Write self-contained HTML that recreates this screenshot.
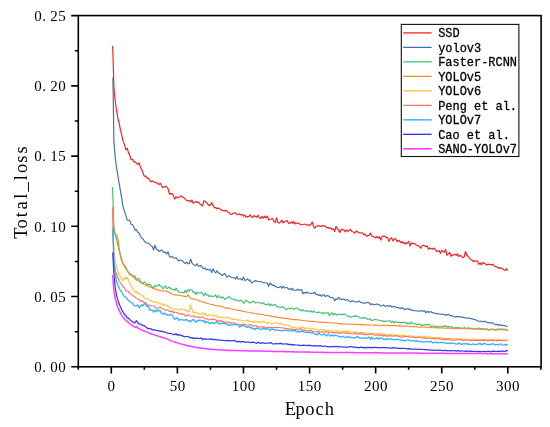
<!DOCTYPE html>
<html lang="en"><head><meta charset="utf-8"><title>Total loss vs Epoch</title>
<style>html,body{margin:0;padding:0;background:#fff}body{width:550px;height:427px;overflow:hidden}</style></head>
<body>
<svg width="550" height="427" viewBox="0 0 550 427" style="display:block;font-family:'Liberation Serif',serif">
<rect width="550" height="427" fill="#fff"/>
<g fill="none" stroke-linejoin="round" stroke-linecap="butt">
<path d="M112.7 45.9 L113.9 87.6 L115.3 102.0 L116.6 110.7 L117.9 118.3 L119.2 123.3 L120.6 130.7 L121.9 135.6 L123.2 141.6 L124.5 144.7 L125.8 149.8 L127.2 148.1 L128.5 152.9 L129.8 155.1 L131.1 159.8 L132.4 159.3 L133.8 162.0 L135.1 161.5 L136.4 163.4 L137.7 164.6 L139.1 162.8 L140.4 166.9 L141.7 169.5 L143.0 172.8 L144.3 176.2 L145.7 176.1 L147.0 178.3 L148.3 178.1 L149.6 180.0 L151.0 181.9 L152.3 180.9 L153.6 181.9 L154.9 182.2 L156.2 182.6 L157.6 183.4 L158.9 184.6 L160.2 183.2 L161.5 185.2 L162.8 187.6 L164.2 186.9 L165.5 186.6 L166.8 186.7 L168.1 188.8 L169.5 194.4 L170.8 193.5 L172.1 193.6 L173.4 195.7 L174.7 199.1 L176.1 196.8 L177.4 197.8 L178.7 197.5 L180.0 196.8 L181.4 195.8 L182.7 197.3 L184.0 197.8 L185.3 199.4 L186.6 200.3 L188.0 200.9 L189.3 200.5 L190.6 201.9 L191.9 200.0 L193.2 203.2 L194.6 202.4 L195.9 201.5 L197.2 202.7 L198.5 202.1 L199.9 204.0 L201.2 204.7 L202.5 205.8 L203.8 200.9 L205.1 201.1 L206.5 202.7 L207.8 204.0 L209.1 205.5 L210.4 205.2 L211.7 202.6 L213.1 205.6 L214.4 207.8 L215.7 207.5 L217.0 208.9 L218.4 208.1 L219.7 208.7 L221.0 209.7 L222.3 210.5 L223.6 210.6 L225.0 210.9 L226.3 210.3 L227.6 212.2 L228.9 212.2 L230.3 214.0 L231.6 214.5 L232.9 213.4 L234.2 213.0 L235.5 212.9 L236.9 214.7 L238.2 214.5 L239.5 214.1 L240.8 214.9 L242.1 214.2 L243.5 216.3 L244.8 214.9 L246.1 217.4 L247.4 216.5 L248.8 216.9 L250.1 214.8 L251.4 216.7 L252.7 217.6 L254.0 215.5 L255.4 216.6 L256.7 217.1 L258.0 215.3 L259.3 217.7 L260.7 218.6 L262.0 216.4 L263.3 218.2 L264.6 216.1 L265.9 218.0 L267.3 216.0 L268.6 219.9 L269.9 219.2 L271.2 219.0 L272.5 218.3 L273.9 221.4 L275.2 222.6 L276.5 217.9 L277.8 222.3 L279.2 223.2 L280.5 221.8 L281.8 220.0 L283.1 222.9 L284.4 221.7 L285.8 221.3 L287.1 220.6 L288.4 223.1 L289.7 223.5 L291.1 221.8 L292.4 223.4 L293.7 221.3 L295.0 224.0 L296.3 223.2 L297.7 223.0 L299.0 223.3 L300.3 224.7 L301.6 224.7 L302.9 224.5 L304.3 224.2 L305.6 224.3 L306.9 225.1 L308.2 224.8 L309.6 225.5 L310.9 224.4 L312.2 221.9 L313.5 226.5 L314.8 228.2 L316.2 226.2 L317.5 225.7 L318.8 225.9 L320.1 226.1 L321.5 226.6 L322.8 225.4 L324.1 226.4 L325.4 226.0 L326.7 227.8 L328.1 227.4 L329.4 228.6 L330.7 227.9 L332.0 229.6 L333.3 228.8 L334.7 231.5 L336.0 226.5 L337.3 228.3 L338.6 230.4 L340.0 232.6 L341.3 229.3 L342.6 229.9 L343.9 229.7 L345.2 231.9 L346.6 230.0 L347.9 231.4 L349.2 230.3 L350.5 229.3 L351.8 231.5 L353.2 231.9 L354.5 233.1 L355.8 231.6 L357.1 231.1 L358.5 232.8 L359.8 232.7 L361.1 233.0 L362.4 232.8 L363.7 234.7 L365.1 234.0 L366.4 236.3 L367.7 235.6 L369.0 235.4 L370.4 233.0 L371.7 236.1 L373.0 236.3 L374.3 237.1 L375.6 237.8 L377.0 236.3 L378.3 238.1 L379.6 236.7 L380.9 240.1 L382.2 236.3 L383.6 236.0 L384.9 236.4 L386.2 237.5 L387.5 237.4 L388.9 241.4 L390.2 238.8 L391.5 237.8 L392.8 240.9 L394.1 239.1 L395.5 238.5 L396.8 241.3 L398.1 241.3 L399.4 240.3 L400.8 242.8 L402.1 241.5 L403.4 243.6 L404.7 242.5 L406.0 244.1 L407.4 242.7 L408.7 241.4 L410.0 246.1 L411.3 242.8 L412.6 243.6 L414.0 243.3 L415.3 244.3 L416.6 245.2 L417.9 245.5 L419.3 246.4 L420.6 248.1 L421.9 246.2 L423.2 245.3 L424.5 245.7 L425.9 246.7 L427.2 245.9 L428.5 249.2 L429.8 248.0 L431.2 248.6 L432.5 249.3 L433.8 248.0 L435.1 249.0 L436.4 251.1 L437.8 251.4 L439.1 250.5 L440.4 253.4 L441.7 250.1 L443.0 251.6 L444.4 252.1 L445.7 249.4 L447.0 255.3 L448.3 253.8 L449.7 252.5 L451.0 256.4 L452.3 255.0 L453.6 255.1 L454.9 254.2 L456.3 255.3 L457.6 253.7 L458.9 256.6 L460.2 255.5 L461.6 256.3 L462.9 257.7 L464.2 256.8 L465.5 251.5 L466.8 255.3 L468.2 256.3 L469.5 258.3 L470.8 259.7 L472.1 260.1 L473.4 261.7 L474.8 260.6 L476.1 261.2 L477.4 260.9 L478.7 264.4 L480.1 262.9 L481.4 265.0 L482.7 262.6 L484.0 263.1 L485.3 263.9 L486.7 265.0 L488.0 264.1 L489.3 264.5 L490.6 264.6 L491.9 265.2 L493.3 264.3 L494.6 266.3 L495.9 266.6 L497.2 267.3 L498.6 268.4 L499.9 267.5 L501.2 268.5 L502.5 268.6 L503.8 269.7 L505.2 270.4 L506.5 268.7 L507.8 270.7" stroke="#fa1a1a" stroke-width="1.15"/>
<path d="M112.9 77.5 L113.9 141.1 L115.3 158.5 L116.6 167.8 L117.9 175.6 L119.2 183.7 L120.6 191.9 L121.9 199.4 L123.2 207.5 L124.5 211.1 L125.8 215.3 L127.2 220.2 L128.5 220.2 L129.8 220.6 L131.1 224.2 L132.4 224.6 L133.8 227.0 L135.1 230.1 L136.4 229.6 L137.7 232.2 L139.1 233.1 L140.4 235.9 L141.7 238.3 L143.0 238.7 L144.3 241.1 L145.7 242.5 L147.0 243.1 L148.3 243.3 L149.6 243.9 L151.0 246.0 L152.3 246.6 L153.6 250.0 L154.9 245.3 L156.2 248.8 L157.6 249.7 L158.9 251.4 L160.2 250.9 L161.5 249.9 L162.8 251.3 L164.2 252.5 L165.5 252.1 L166.8 254.0 L168.1 251.9 L169.5 256.7 L170.8 257.3 L172.1 256.1 L173.4 258.0 L174.7 258.1 L176.1 257.8 L177.4 259.3 L178.7 260.9 L180.0 260.0 L181.4 260.5 L182.7 261.3 L184.0 262.3 L185.3 263.7 L186.6 262.1 L188.0 263.7 L189.3 263.8 L190.6 259.0 L191.9 262.8 L193.2 264.5 L194.6 265.0 L195.9 265.7 L197.2 263.7 L198.5 266.2 L199.9 265.9 L201.2 265.6 L202.5 268.1 L203.8 268.8 L205.1 267.9 L206.5 269.9 L207.8 269.2 L209.1 270.1 L210.4 269.4 L211.7 272.6 L213.1 268.8 L214.4 271.7 L215.7 272.9 L217.0 270.7 L218.4 272.9 L219.7 273.4 L221.0 274.6 L222.3 275.4 L223.6 274.2 L225.0 273.6 L226.3 276.6 L227.6 276.9 L228.9 275.7 L230.3 276.8 L231.6 277.2 L232.9 277.7 L234.2 277.7 L235.5 279.1 L236.9 276.5 L238.2 279.3 L239.5 279.0 L240.8 278.6 L242.1 280.1 L243.5 277.1 L244.8 280.5 L246.1 280.0 L247.4 278.8 L248.8 280.4 L250.1 280.0 L251.4 282.8 L252.7 282.4 L254.0 281.4 L255.4 280.6 L256.7 281.0 L258.0 281.5 L259.3 281.5 L260.7 281.5 L262.0 282.1 L263.3 282.6 L264.6 282.7 L265.9 282.9 L267.3 283.0 L268.6 286.3 L269.9 283.2 L271.2 284.0 L272.5 285.5 L273.9 285.3 L275.2 286.2 L276.5 286.9 L277.8 287.6 L279.2 287.4 L280.5 286.3 L281.8 288.3 L283.1 286.2 L284.4 287.8 L285.8 287.7 L287.1 287.5 L288.4 289.1 L289.7 288.7 L291.1 289.9 L292.4 288.2 L293.7 290.3 L295.0 290.2 L296.3 290.2 L297.7 289.2 L299.0 290.4 L300.3 289.7 L301.6 289.5 L302.9 293.9 L304.3 292.4 L305.6 293.3 L306.9 291.8 L308.2 293.0 L309.6 293.2 L310.9 293.4 L312.2 293.2 L313.5 293.3 L314.8 292.2 L316.2 294.5 L317.5 294.6 L318.8 295.4 L320.1 294.6 L321.5 296.3 L322.8 295.0 L324.1 294.7 L325.4 296.6 L326.7 295.8 L328.1 295.6 L329.4 296.8 L330.7 297.5 L332.0 297.5 L333.3 297.9 L334.7 300.7 L336.0 298.7 L337.3 299.4 L338.6 297.3 L340.0 299.1 L341.3 299.7 L342.6 299.1 L343.9 299.0 L345.2 300.1 L346.6 299.9 L347.9 299.9 L349.2 301.2 L350.5 301.6 L351.8 301.1 L353.2 300.8 L354.5 301.6 L355.8 302.0 L357.1 302.1 L358.5 300.9 L359.8 301.8 L361.1 302.4 L362.4 302.8 L363.7 303.2 L365.1 303.2 L366.4 302.3 L367.7 302.7 L369.0 302.6 L370.4 304.6 L371.7 303.9 L373.0 304.3 L374.3 304.8 L375.6 304.2 L377.0 303.9 L378.3 304.5 L379.6 304.9 L380.9 306.0 L382.2 305.8 L383.6 304.9 L384.9 306.1 L386.2 306.3 L387.5 305.5 L388.9 306.3 L390.2 305.5 L391.5 306.9 L392.8 306.8 L394.1 306.4 L395.5 307.0 L396.8 307.7 L398.1 307.4 L399.4 308.1 L400.8 308.4 L402.1 307.9 L403.4 308.4 L404.7 309.9 L406.0 309.0 L407.4 308.7 L408.7 309.4 L410.0 308.9 L411.3 310.3 L412.6 310.1 L414.0 310.7 L415.3 310.8 L416.6 310.7 L417.9 311.2 L419.3 311.0 L420.6 310.8 L421.9 310.8 L423.2 311.3 L424.5 310.5 L425.9 312.8 L427.2 311.3 L428.5 312.3 L429.8 311.9 L431.2 311.8 L432.5 312.8 L433.8 312.9 L435.1 313.2 L436.4 313.7 L437.8 313.4 L439.1 314.0 L440.4 314.3 L441.7 314.1 L443.0 314.3 L444.4 314.9 L445.7 314.9 L447.0 315.1 L448.3 314.3 L449.7 315.4 L451.0 315.8 L452.3 315.8 L453.6 316.2 L454.9 317.0 L456.3 316.5 L457.6 316.9 L458.9 316.5 L460.2 316.7 L461.6 317.1 L462.9 317.1 L464.2 317.8 L465.5 317.7 L466.8 318.2 L468.2 318.0 L469.5 318.1 L470.8 318.8 L472.1 318.9 L473.4 319.3 L474.8 319.6 L476.1 320.0 L477.4 320.8 L478.7 321.2 L480.1 321.3 L481.4 321.1 L482.7 322.1 L484.0 321.2 L485.3 321.2 L486.7 322.4 L488.0 322.6 L489.3 322.8 L490.6 323.1 L491.9 322.7 L493.3 323.2 L494.6 324.4 L495.9 324.6 L497.2 324.2 L498.6 325.5 L499.9 324.6 L501.2 325.0 L502.5 325.7 L503.8 325.3 L505.2 325.9 L506.5 326.3 L507.8 326.4" stroke="#3f6ea8" stroke-width="1.15"/>
<path d="M112.5 187.0 L113.9 226.2 L115.3 235.3 L116.6 239.1 L117.9 245.3 L119.2 250.8 L120.6 255.9 L121.9 260.1 L123.2 263.8 L124.5 265.8 L125.8 267.0 L127.2 271.0 L128.5 272.7 L129.8 275.1 L131.1 274.5 L132.4 275.2 L133.8 276.2 L135.1 276.0 L136.4 280.0 L137.7 278.4 L139.1 279.1 L140.4 281.0 L141.7 283.7 L143.0 282.8 L144.3 281.9 L145.7 282.8 L147.0 284.9 L148.3 284.4 L149.6 284.2 L151.0 285.3 L152.3 286.9 L153.6 288.7 L154.9 285.2 L156.2 286.2 L157.6 286.2 L158.9 284.4 L160.2 286.2 L161.5 286.2 L162.8 288.8 L164.2 287.4 L165.5 285.8 L166.8 288.7 L168.1 288.0 L169.5 287.0 L170.8 288.9 L172.1 289.3 L173.4 289.3 L174.7 290.5 L176.1 288.1 L177.4 290.5 L178.7 292.0 L180.0 292.0 L181.4 292.4 L182.7 292.5 L184.0 293.0 L185.3 290.2 L186.6 292.5 L188.0 289.6 L189.3 291.2 L190.6 289.8 L191.9 289.7 L193.2 292.4 L194.6 292.1 L195.9 294.4 L197.2 291.9 L198.5 293.0 L199.9 293.1 L201.2 292.1 L202.5 293.9 L203.8 295.8 L205.1 292.9 L206.5 295.3 L207.8 294.4 L209.1 296.8 L210.4 295.7 L211.7 296.2 L213.1 296.4 L214.4 296.2 L215.7 294.8 L217.0 298.0 L218.4 295.4 L219.7 297.3 L221.0 298.0 L222.3 296.7 L223.6 298.0 L225.0 299.3 L226.3 298.4 L227.6 297.8 L228.9 296.0 L230.3 298.3 L231.6 298.9 L232.9 299.3 L234.2 299.1 L235.5 300.6 L236.9 299.9 L238.2 300.5 L239.5 301.4 L240.8 300.1 L242.1 300.7 L243.5 303.3 L244.8 302.1 L246.1 300.1 L247.4 301.4 L248.8 302.2 L250.1 303.0 L251.4 302.1 L252.7 301.6 L254.0 301.5 L255.4 303.0 L256.7 302.8 L258.0 302.2 L259.3 302.7 L260.7 302.7 L262.0 303.9 L263.3 302.8 L264.6 304.1 L265.9 304.6 L267.3 304.5 L268.6 303.6 L269.9 305.8 L271.2 304.2 L272.5 305.6 L273.9 304.8 L275.2 304.3 L276.5 306.5 L277.8 306.9 L279.2 306.9 L280.5 307.5 L281.8 306.9 L283.1 307.1 L284.4 307.7 L285.8 309.7 L287.1 308.9 L288.4 307.9 L289.7 308.9 L291.1 308.2 L292.4 308.3 L293.7 309.6 L295.0 308.6 L296.3 307.8 L297.7 308.6 L299.0 309.6 L300.3 309.9 L301.6 311.0 L302.9 309.6 L304.3 311.0 L305.6 310.9 L306.9 310.6 L308.2 311.7 L309.6 311.6 L310.9 310.7 L312.2 312.4 L313.5 310.8 L314.8 312.0 L316.2 312.2 L317.5 312.7 L318.8 311.9 L320.1 312.6 L321.5 312.7 L322.8 313.7 L324.1 312.5 L325.4 313.3 L326.7 313.2 L328.1 312.5 L329.4 315.7 L330.7 313.7 L332.0 312.8 L333.3 315.1 L334.7 313.3 L336.0 314.6 L337.3 315.1 L338.6 314.1 L340.0 314.4 L341.3 314.4 L342.6 314.9 L343.9 313.9 L345.2 314.4 L346.6 315.4 L347.9 316.4 L349.2 316.3 L350.5 317.3 L351.8 316.8 L353.2 316.2 L354.5 316.7 L355.8 315.5 L357.1 316.5 L358.5 316.7 L359.8 317.9 L361.1 318.3 L362.4 317.7 L363.7 317.9 L365.1 317.5 L366.4 318.6 L367.7 319.1 L369.0 319.4 L370.4 318.7 L371.7 320.7 L373.0 320.3 L374.3 319.6 L375.6 319.5 L377.0 319.7 L378.3 320.2 L379.6 320.2 L380.9 320.6 L382.2 320.9 L383.6 321.4 L384.9 321.4 L386.2 320.8 L387.5 321.2 L388.9 320.8 L390.2 320.9 L391.5 322.5 L392.8 321.2 L394.1 322.8 L395.5 321.5 L396.8 322.0 L398.1 322.7 L399.4 322.2 L400.8 322.5 L402.1 322.3 L403.4 322.3 L404.7 322.6 L406.0 322.5 L407.4 323.9 L408.7 323.0 L410.0 324.2 L411.3 321.8 L412.6 323.5 L414.0 324.0 L415.3 323.6 L416.6 324.5 L417.9 324.4 L419.3 324.0 L420.6 324.5 L421.9 326.0 L423.2 324.7 L424.5 324.9 L425.9 324.6 L427.2 325.0 L428.5 324.4 L429.8 325.1 L431.2 326.6 L432.5 326.0 L433.8 325.9 L435.1 326.3 L436.4 326.8 L437.8 326.2 L439.1 327.1 L440.4 326.7 L441.7 326.4 L443.0 327.3 L444.4 325.4 L445.7 326.4 L447.0 326.9 L448.3 326.4 L449.7 326.9 L451.0 326.8 L452.3 326.9 L453.6 328.6 L454.9 327.7 L456.3 327.5 L457.6 328.2 L458.9 327.6 L460.2 328.2 L461.6 328.0 L462.9 328.7 L464.2 327.3 L465.5 328.4 L466.8 328.2 L468.2 327.7 L469.5 328.8 L470.8 328.0 L472.1 329.2 L473.4 328.8 L474.8 328.9 L476.1 328.7 L477.4 329.1 L478.7 327.9 L480.1 328.9 L481.4 328.6 L482.7 329.1 L484.0 329.0 L485.3 329.3 L486.7 328.7 L488.0 330.0 L489.3 330.3 L490.6 329.1 L491.9 329.3 L493.3 329.4 L494.6 330.0 L495.9 330.3 L497.2 328.9 L498.6 329.2 L499.9 329.0 L501.2 329.0 L502.5 328.8 L503.8 329.8 L505.2 329.1 L506.5 330.4 L507.8 330.1" stroke="#3ec070" stroke-width="1.15"/>
<path d="M112.6 207.4 L113.9 232.5 L115.3 233.8 L116.6 235.0 L117.9 238.8 L119.2 248.4 L120.6 257.5 L121.9 261.6 L123.2 264.4 L124.5 266.6 L125.8 268.9 L127.2 270.5 L128.5 272.2 L129.8 273.7 L131.1 274.7 L132.4 276.4 L133.8 277.3 L135.1 279.0 L136.4 279.9 L137.7 280.7 L139.1 281.3 L140.4 282.4 L141.7 283.1 L143.0 283.4 L144.3 284.9 L145.7 285.0 L147.0 286.0 L148.3 285.9 L149.6 287.2 L151.0 287.1 L152.3 287.9 L153.6 288.8 L154.9 289.2 L156.2 289.1 L157.6 289.6 L158.9 290.3 L160.2 290.8 L161.5 290.7 L162.8 290.6 L164.2 291.0 L165.5 290.8 L166.8 291.6 L168.1 291.6 L169.5 292.6 L170.8 293.2 L172.1 294.0 L173.4 294.2 L174.7 294.9 L176.1 294.8 L177.4 295.3 L178.7 295.5 L180.0 295.1 L181.4 295.8 L182.7 296.1 L184.0 296.1 L185.3 296.6 L186.6 296.6 L188.0 294.9 L189.3 296.9 L190.6 298.1 L191.9 299.0 L193.2 298.9 L194.6 299.3 L195.9 299.5 L197.2 300.1 L198.5 300.3 L199.9 301.2 L201.2 301.1 L202.5 301.7 L203.8 302.6 L205.1 302.8 L206.5 303.0 L207.8 303.7 L209.1 303.7 L210.4 304.3 L211.7 304.5 L213.1 304.6 L214.4 305.2 L215.7 305.7 L217.0 305.7 L218.4 305.9 L219.7 306.3 L221.0 306.2 L222.3 306.9 L223.6 307.1 L225.0 308.1 L226.3 307.8 L227.6 307.8 L228.9 308.6 L230.3 308.7 L231.6 309.0 L232.9 309.3 L234.2 309.5 L235.5 309.7 L236.9 310.2 L238.2 310.4 L239.5 310.4 L240.8 310.8 L242.1 310.9 L243.5 311.4 L244.8 311.7 L246.1 312.0 L247.4 312.2 L248.8 312.3 L250.1 312.9 L251.4 312.8 L252.7 313.0 L254.0 313.2 L255.4 313.5 L256.7 313.6 L258.0 314.3 L259.3 314.2 L260.7 314.0 L262.0 314.4 L263.3 314.5 L264.6 315.2 L265.9 315.5 L267.3 315.3 L268.6 315.8 L269.9 315.9 L271.2 316.2 L272.5 316.7 L273.9 316.5 L275.2 316.6 L276.5 317.2 L277.8 317.4 L279.2 317.6 L280.5 317.9 L281.8 317.7 L283.1 317.7 L284.4 318.5 L285.8 318.4 L287.1 318.4 L288.4 318.6 L289.7 319.2 L291.1 319.2 L292.4 319.4 L293.7 319.6 L295.0 319.5 L296.3 319.6 L297.7 319.8 L299.0 319.9 L300.3 320.1 L301.6 320.2 L302.9 320.5 L304.3 320.5 L305.6 320.7 L306.9 321.0 L308.2 321.3 L309.6 321.4 L310.9 321.3 L312.2 321.4 L313.5 321.4 L314.8 321.8 L316.2 322.0 L317.5 321.7 L318.8 322.1 L320.1 322.0 L321.5 322.1 L322.8 322.3 L324.1 322.3 L325.4 322.6 L326.7 322.3 L328.1 322.6 L329.4 322.8 L330.7 322.7 L332.0 323.0 L333.3 322.8 L334.7 323.2 L336.0 323.0 L337.3 323.3 L338.6 323.5 L340.0 323.9 L341.3 323.8 L342.6 324.0 L343.9 323.8 L345.2 324.2 L346.6 323.9 L347.9 324.0 L349.2 323.9 L350.5 324.2 L351.8 324.4 L353.2 324.2 L354.5 324.3 L355.8 324.4 L357.1 324.4 L358.5 324.5 L359.8 324.4 L361.1 324.9 L362.4 324.4 L363.7 324.6 L365.1 324.9 L366.4 325.1 L367.7 324.9 L369.0 324.9 L370.4 325.0 L371.7 325.0 L373.0 325.2 L374.3 325.1 L375.6 325.0 L377.0 325.1 L378.3 325.2 L379.6 325.4 L380.9 325.5 L382.2 325.2 L383.6 325.1 L384.9 325.2 L386.2 325.7 L387.5 325.4 L388.9 325.5 L390.2 325.8 L391.5 325.4 L392.8 325.6 L394.1 325.6 L395.5 325.5 L396.8 325.9 L398.1 326.0 L399.4 325.6 L400.8 326.1 L402.1 326.0 L403.4 326.1 L404.7 326.2 L406.0 326.0 L407.4 326.2 L408.7 326.2 L410.0 326.7 L411.3 326.8 L412.6 326.6 L414.0 326.5 L415.3 326.8 L416.6 326.7 L417.9 327.1 L419.3 327.2 L420.6 327.2 L421.9 327.0 L423.2 327.0 L424.5 327.1 L425.9 327.2 L427.2 327.2 L428.5 327.6 L429.8 327.6 L431.2 327.5 L432.5 327.5 L433.8 327.7 L435.1 327.9 L436.4 327.5 L437.8 327.8 L439.1 327.8 L440.4 327.8 L441.7 327.9 L443.0 328.0 L444.4 328.3 L445.7 328.1 L447.0 328.1 L448.3 328.0 L449.7 328.3 L451.0 328.1 L452.3 328.2 L453.6 328.4 L454.9 328.3 L456.3 328.3 L457.6 328.4 L458.9 328.6 L460.2 328.5 L461.6 328.5 L462.9 328.6 L464.2 328.6 L465.5 328.7 L466.8 328.6 L468.2 328.9 L469.5 328.8 L470.8 328.6 L472.1 328.8 L473.4 329.0 L474.8 328.9 L476.1 328.9 L477.4 329.1 L478.7 328.9 L480.1 329.1 L481.4 329.2 L482.7 329.3 L484.0 329.1 L485.3 329.1 L486.7 329.4 L488.0 329.2 L489.3 329.3 L490.6 329.7 L491.9 329.3 L493.3 329.1 L494.6 329.8 L495.9 329.6 L497.2 329.5 L498.6 329.9 L499.9 329.5 L501.2 329.8 L502.5 329.6 L503.8 329.6 L505.2 329.7 L506.5 329.8 L507.8 329.9" stroke="#ff8828" stroke-width="1.15"/>
<path d="M112.6 215.0 L113.9 250.6 L115.3 261.0 L116.6 266.9 L117.9 271.4 L119.2 275.0 L120.6 277.2 L121.9 279.5 L123.2 280.7 L124.5 277.4 L125.8 279.5 L127.2 276.9 L128.5 280.1 L129.8 283.7 L131.1 284.6 L132.4 287.7 L133.8 290.8 L135.1 292.4 L136.4 291.4 L137.7 293.6 L139.1 293.4 L140.4 294.2 L141.7 295.0 L143.0 296.0 L144.3 297.7 L145.7 298.3 L147.0 298.7 L148.3 299.2 L149.6 300.0 L151.0 300.6 L152.3 301.6 L153.6 301.2 L154.9 301.9 L156.2 302.3 L157.6 302.6 L158.9 303.1 L160.2 303.4 L161.5 304.5 L162.8 304.0 L164.2 305.4 L165.5 304.7 L166.8 305.2 L168.1 306.2 L169.5 307.2 L170.8 307.8 L172.1 309.0 L173.4 309.3 L174.7 309.1 L176.1 308.8 L177.4 309.1 L178.7 310.1 L180.0 309.6 L181.4 308.8 L182.7 309.3 L184.0 309.5 L185.3 310.7 L186.6 310.2 L188.0 311.8 L189.3 311.2 L190.6 304.8 L191.9 309.1 L193.2 312.5 L194.6 312.3 L195.9 312.3 L197.2 313.4 L198.5 313.4 L199.9 314.3 L201.2 313.8 L202.5 312.5 L203.8 314.8 L205.1 313.5 L206.5 315.6 L207.8 315.9 L209.1 314.9 L210.4 314.7 L211.7 314.8 L213.1 316.2 L214.4 315.8 L215.7 315.8 L217.0 316.1 L218.4 317.5 L219.7 316.8 L221.0 317.2 L222.3 317.4 L223.6 317.7 L225.0 318.0 L226.3 317.3 L227.6 317.8 L228.9 317.8 L230.3 318.2 L231.6 319.4 L232.9 318.9 L234.2 319.4 L235.5 319.3 L236.9 319.5 L238.2 320.4 L239.5 319.9 L240.8 320.0 L242.1 320.7 L243.5 320.8 L244.8 321.0 L246.1 320.8 L247.4 320.0 L248.8 321.3 L250.1 321.3 L251.4 321.7 L252.7 320.9 L254.0 322.7 L255.4 321.0 L256.7 322.1 L258.0 321.9 L259.3 321.8 L260.7 322.6 L262.0 322.2 L263.3 321.3 L264.6 322.0 L265.9 322.9 L267.3 323.9 L268.6 322.3 L269.9 323.1 L271.2 324.0 L272.5 323.7 L273.9 323.4 L275.2 323.0 L276.5 323.0 L277.8 323.7 L279.2 324.0 L280.5 323.3 L281.8 323.8 L283.1 324.9 L284.4 324.8 L285.8 324.9 L287.1 325.3 L288.4 325.4 L289.7 326.4 L291.1 327.0 L292.4 327.4 L293.7 327.0 L295.0 327.2 L296.3 327.7 L297.7 328.0 L299.0 328.0 L300.3 328.1 L301.6 327.4 L302.9 327.1 L304.3 328.4 L305.6 328.1 L306.9 328.3 L308.2 328.1 L309.6 328.0 L310.9 329.3 L312.2 329.1 L313.5 328.5 L314.8 329.3 L316.2 329.4 L317.5 329.6 L318.8 330.5 L320.1 329.6 L321.5 329.2 L322.8 329.9 L324.1 329.7 L325.4 330.4 L326.7 330.3 L328.1 330.5 L329.4 330.2 L330.7 330.7 L332.0 330.5 L333.3 331.0 L334.7 330.8 L336.0 330.5 L337.3 331.3 L338.6 330.9 L340.0 331.9 L341.3 331.6 L342.6 331.7 L343.9 331.6 L345.2 331.6 L346.6 330.8 L347.9 332.3 L349.2 331.6 L350.5 332.4 L351.8 331.8 L353.2 332.1 L354.5 332.2 L355.8 331.9 L357.1 332.4 L358.5 332.7 L359.8 332.4 L361.1 332.2 L362.4 332.5 L363.7 332.9 L365.1 333.4 L366.4 333.3 L367.7 333.2 L369.0 332.8 L370.4 333.6 L371.7 333.4 L373.0 333.4 L374.3 333.9 L375.6 333.9 L377.0 334.0 L378.3 333.5 L379.6 333.8 L380.9 333.5 L382.2 334.3 L383.6 334.3 L384.9 334.8 L386.2 334.6 L387.5 334.5 L388.9 335.5 L390.2 334.4 L391.5 334.4 L392.8 334.8 L394.1 335.3 L395.5 335.0 L396.8 335.1 L398.1 334.9 L399.4 335.9 L400.8 335.2 L402.1 335.2 L403.4 335.6 L404.7 335.4 L406.0 335.7 L407.4 336.3 L408.7 335.8 L410.0 336.0 L411.3 335.9 L412.6 336.1 L414.0 336.5 L415.3 336.5 L416.6 336.3 L417.9 336.2 L419.3 336.5 L420.6 336.9 L421.9 336.8 L423.2 336.8 L424.5 336.4 L425.9 337.4 L427.2 336.7 L428.5 336.8 L429.8 337.2 L431.2 337.4 L432.5 337.5 L433.8 337.3 L435.1 337.6 L436.4 337.6 L437.8 337.3 L439.1 337.8 L440.4 337.8 L441.7 338.2 L443.0 338.1 L444.4 338.5 L445.7 338.5 L447.0 338.6 L448.3 338.8 L449.7 338.7 L451.0 338.5 L452.3 339.0 L453.6 338.4 L454.9 338.7 L456.3 339.1 L457.6 338.8 L458.9 339.1 L460.2 338.7 L461.6 338.9 L462.9 339.2 L464.2 339.3 L465.5 339.5 L466.8 339.2 L468.2 339.4 L469.5 339.5 L470.8 339.5 L472.1 339.0 L473.4 339.3 L474.8 340.0 L476.1 339.2 L477.4 339.8 L478.7 339.5 L480.1 340.0 L481.4 339.5 L482.7 339.8 L484.0 339.2 L485.3 339.8 L486.7 340.2 L488.0 339.4 L489.3 340.3 L490.6 339.7 L491.9 339.9 L493.3 339.2 L494.6 340.3 L495.9 339.8 L497.2 339.9 L498.6 339.7 L499.9 339.8 L501.2 340.5 L502.5 340.0 L503.8 340.4 L505.2 340.1 L506.5 340.3 L507.8 340.0" stroke="#ffc42e" stroke-width="1.15"/>
<path d="M112.6 207.4 L113.9 260.6 L115.3 271.0 L116.6 274.8 L117.9 277.7 L119.2 280.8 L120.6 283.2 L121.9 284.4 L123.2 287.2 L124.5 287.9 L125.8 290.7 L127.2 290.9 L128.5 291.6 L129.8 293.7 L131.1 294.2 L132.4 295.3 L133.8 296.3 L135.1 297.1 L136.4 298.4 L137.7 299.3 L139.1 299.8 L140.4 301.5 L141.7 300.3 L143.0 301.6 L144.3 303.1 L145.7 302.6 L147.0 304.9 L148.3 305.0 L149.6 305.1 L151.0 306.0 L152.3 305.8 L153.6 305.7 L154.9 307.5 L156.2 307.9 L157.6 307.8 L158.9 308.0 L160.2 307.1 L161.5 308.2 L162.8 308.8 L164.2 309.5 L165.5 310.6 L166.8 309.8 L168.1 310.1 L169.5 311.6 L170.8 311.4 L172.1 311.1 L173.4 312.9 L174.7 312.0 L176.1 312.5 L177.4 312.5 L178.7 313.6 L180.0 314.2 L181.4 313.6 L182.7 314.3 L184.0 314.1 L185.3 315.9 L186.6 315.7 L188.0 314.8 L189.3 315.7 L190.6 316.2 L191.9 316.2 L193.2 315.8 L194.6 316.4 L195.9 317.2 L197.2 317.3 L198.5 316.8 L199.9 317.8 L201.2 317.2 L202.5 316.8 L203.8 318.2 L205.1 318.8 L206.5 318.7 L207.8 319.5 L209.1 319.9 L210.4 319.3 L211.7 319.0 L213.1 319.6 L214.4 319.1 L215.7 320.1 L217.0 320.4 L218.4 320.8 L219.7 321.6 L221.0 320.1 L222.3 321.9 L223.6 321.5 L225.0 322.4 L226.3 322.3 L227.6 321.9 L228.9 323.0 L230.3 322.4 L231.6 323.2 L232.9 322.8 L234.2 323.0 L235.5 323.5 L236.9 324.6 L238.2 324.2 L239.5 324.0 L240.8 325.0 L242.1 324.4 L243.5 324.4 L244.8 324.3 L246.1 325.0 L247.4 325.2 L248.8 325.0 L250.1 324.5 L251.4 325.6 L252.7 325.9 L254.0 325.8 L255.4 325.8 L256.7 325.9 L258.0 326.3 L259.3 327.4 L260.7 327.0 L262.0 326.2 L263.3 327.4 L264.6 327.0 L265.9 328.4 L267.3 327.2 L268.6 327.4 L269.9 327.5 L271.2 327.6 L272.5 327.6 L273.9 327.6 L275.2 327.5 L276.5 327.4 L277.8 327.6 L279.2 327.3 L280.5 327.7 L281.8 327.7 L283.1 328.0 L284.4 328.1 L285.8 328.4 L287.1 328.8 L288.4 328.6 L289.7 329.0 L291.1 329.2 L292.4 329.1 L293.7 329.3 L295.0 329.7 L296.3 328.9 L297.7 330.1 L299.0 329.7 L300.3 328.4 L301.6 330.4 L302.9 329.7 L304.3 330.8 L305.6 330.0 L306.9 330.5 L308.2 331.0 L309.6 330.5 L310.9 330.5 L312.2 331.0 L313.5 331.7 L314.8 331.7 L316.2 332.0 L317.5 331.6 L318.8 331.8 L320.1 332.1 L321.5 332.0 L322.8 331.5 L324.1 332.3 L325.4 331.8 L326.7 331.8 L328.1 332.3 L329.4 332.3 L330.7 332.7 L332.0 332.6 L333.3 332.4 L334.7 332.6 L336.0 332.5 L337.3 332.7 L338.6 333.4 L340.0 333.1 L341.3 332.9 L342.6 333.0 L343.9 332.9 L345.2 333.2 L346.6 332.7 L347.9 333.6 L349.2 333.3 L350.5 333.8 L351.8 334.0 L353.2 333.8 L354.5 333.3 L355.8 333.3 L357.1 334.1 L358.5 334.2 L359.8 333.4 L361.1 333.6 L362.4 334.5 L363.7 334.1 L365.1 335.0 L366.4 334.4 L367.7 334.7 L369.0 334.4 L370.4 334.3 L371.7 334.0 L373.0 333.6 L374.3 335.2 L375.6 335.1 L377.0 334.7 L378.3 335.4 L379.6 334.6 L380.9 335.8 L382.2 335.5 L383.6 336.1 L384.9 334.9 L386.2 336.2 L387.5 336.1 L388.9 335.9 L390.2 335.6 L391.5 336.1 L392.8 336.2 L394.1 335.9 L395.5 335.7 L396.8 335.9 L398.1 336.2 L399.4 336.8 L400.8 336.9 L402.1 337.2 L403.4 336.8 L404.7 336.2 L406.0 336.5 L407.4 336.5 L408.7 336.8 L410.0 337.5 L411.3 337.0 L412.6 337.0 L414.0 337.4 L415.3 337.6 L416.6 337.7 L417.9 337.2 L419.3 337.3 L420.6 337.5 L421.9 338.0 L423.2 337.9 L424.5 337.6 L425.9 338.7 L427.2 338.0 L428.5 338.2 L429.8 338.3 L431.2 338.2 L432.5 338.5 L433.8 338.6 L435.1 338.8 L436.4 338.9 L437.8 338.7 L439.1 338.6 L440.4 339.3 L441.7 339.0 L443.0 339.5 L444.4 339.3 L445.7 340.1 L447.0 339.3 L448.3 338.9 L449.7 339.4 L451.0 339.9 L452.3 340.1 L453.6 340.2 L454.9 339.9 L456.3 340.2 L457.6 339.5 L458.9 339.7 L460.2 339.6 L461.6 340.1 L462.9 340.4 L464.2 340.0 L465.5 340.2 L466.8 339.9 L468.2 340.0 L469.5 340.2 L470.8 340.6 L472.1 340.3 L473.4 340.4 L474.8 340.6 L476.1 340.5 L477.4 340.1 L478.7 340.8 L480.1 340.3 L481.4 340.4 L482.7 340.4 L484.0 340.6 L485.3 340.4 L486.7 340.5 L488.0 341.0 L489.3 340.2 L490.6 339.9 L491.9 340.9 L493.3 340.6 L494.6 340.7 L495.9 340.7 L497.2 340.4 L498.6 340.6 L499.9 340.1 L501.2 340.6 L502.5 340.6 L503.8 340.2 L505.2 340.4 L506.5 340.6 L507.8 340.7" stroke="#ff7070" stroke-width="1.15"/>
<path d="M112.6 228.5 L113.9 260.0 L115.3 274.4 L116.6 281.1 L117.9 285.1 L119.2 288.2 L120.6 290.7 L121.9 292.0 L123.2 295.1 L124.5 296.5 L125.8 297.1 L127.2 298.8 L128.5 300.7 L129.8 301.3 L131.1 302.6 L132.4 302.8 L133.8 305.5 L135.1 305.6 L136.4 306.1 L137.7 304.8 L139.1 307.8 L140.4 306.2 L141.7 304.7 L143.0 305.9 L144.3 303.9 L145.7 303.9 L147.0 306.5 L148.3 306.1 L149.6 310.1 L151.0 309.8 L152.3 310.2 L153.6 312.2 L154.9 309.9 L156.2 311.9 L157.6 309.7 L158.9 311.0 L160.2 310.7 L161.5 313.4 L162.8 314.2 L164.2 313.0 L165.5 314.6 L166.8 314.3 L168.1 315.4 L169.5 314.8 L170.8 314.5 L172.1 315.0 L173.4 317.3 L174.7 319.4 L176.1 318.1 L177.4 317.9 L178.7 320.4 L180.0 319.4 L181.4 319.7 L182.7 320.1 L184.0 320.0 L185.3 320.1 L186.6 319.3 L188.0 321.0 L189.3 320.6 L190.6 321.7 L191.9 320.5 L193.2 319.2 L194.6 320.8 L195.9 322.4 L197.2 320.7 L198.5 320.4 L199.9 320.2 L201.2 320.4 L202.5 321.2 L203.8 320.6 L205.1 322.9 L206.5 321.6 L207.8 322.1 L209.1 323.3 L210.4 323.5 L211.7 322.3 L213.1 322.8 L214.4 323.3 L215.7 322.7 L217.0 321.5 L218.4 323.6 L219.7 323.9 L221.0 323.7 L222.3 322.8 L223.6 323.5 L225.0 323.3 L226.3 323.6 L227.6 325.0 L228.9 325.3 L230.3 324.8 L231.6 324.8 L232.9 325.0 L234.2 324.6 L235.5 324.7 L236.9 324.4 L238.2 325.1 L239.5 327.1 L240.8 326.3 L242.1 325.7 L243.5 325.9 L244.8 325.9 L246.1 327.1 L247.4 327.4 L248.8 326.3 L250.1 327.9 L251.4 327.3 L252.7 329.0 L254.0 328.2 L255.4 329.5 L256.7 328.0 L258.0 328.3 L259.3 328.8 L260.7 329.5 L262.0 329.2 L263.3 328.0 L264.6 329.2 L265.9 329.1 L267.3 328.9 L268.6 328.8 L269.9 330.6 L271.2 329.2 L272.5 328.9 L273.9 330.0 L275.2 329.8 L276.5 329.7 L277.8 330.4 L279.2 330.3 L280.5 330.3 L281.8 330.8 L283.1 330.5 L284.4 330.0 L285.8 330.3 L287.1 330.3 L288.4 331.0 L289.7 330.2 L291.1 329.8 L292.4 331.3 L293.7 330.5 L295.0 330.2 L296.3 331.9 L297.7 331.3 L299.0 332.2 L300.3 331.7 L301.6 331.4 L302.9 331.4 L304.3 332.1 L305.6 332.3 L306.9 332.1 L308.2 332.6 L309.6 331.9 L310.9 333.0 L312.2 332.0 L313.5 333.2 L314.8 333.9 L316.2 334.3 L317.5 334.8 L318.8 332.8 L320.1 334.4 L321.5 334.9 L322.8 334.9 L324.1 333.8 L325.4 334.9 L326.7 336.0 L328.1 334.0 L329.4 335.4 L330.7 336.0 L332.0 335.1 L333.3 336.1 L334.7 335.2 L336.0 335.5 L337.3 335.7 L338.6 336.5 L340.0 336.4 L341.3 337.2 L342.6 336.2 L343.9 336.8 L345.2 337.5 L346.6 337.4 L347.9 336.3 L349.2 337.6 L350.5 337.0 L351.8 337.6 L353.2 337.6 L354.5 338.2 L355.8 337.6 L357.1 336.5 L358.5 336.9 L359.8 338.2 L361.1 337.7 L362.4 338.5 L363.7 338.1 L365.1 337.6 L366.4 338.7 L367.7 337.7 L369.0 337.0 L370.4 339.4 L371.7 337.2 L373.0 338.7 L374.3 339.0 L375.6 338.6 L377.0 337.6 L378.3 339.2 L379.6 337.9 L380.9 338.0 L382.2 338.6 L383.6 339.3 L384.9 339.1 L386.2 339.4 L387.5 338.8 L388.9 339.0 L390.2 338.6 L391.5 339.1 L392.8 339.7 L394.1 339.3 L395.5 339.8 L396.8 339.3 L398.1 339.4 L399.4 339.8 L400.8 339.8 L402.1 340.3 L403.4 340.2 L404.7 341.1 L406.0 340.1 L407.4 340.2 L408.7 339.9 L410.0 340.6 L411.3 341.0 L412.6 340.4 L414.0 340.8 L415.3 341.3 L416.6 341.0 L417.9 340.9 L419.3 341.7 L420.6 341.4 L421.9 341.6 L423.2 342.1 L424.5 342.2 L425.9 341.5 L427.2 341.6 L428.5 342.0 L429.8 341.9 L431.2 341.2 L432.5 342.8 L433.8 342.3 L435.1 342.7 L436.4 341.9 L437.8 343.1 L439.1 342.3 L440.4 342.6 L441.7 342.1 L443.0 342.8 L444.4 342.8 L445.7 342.9 L447.0 343.3 L448.3 343.2 L449.7 343.6 L451.0 343.1 L452.3 342.9 L453.6 343.4 L454.9 343.7 L456.3 344.1 L457.6 343.9 L458.9 342.8 L460.2 343.8 L461.6 344.4 L462.9 343.8 L464.2 343.6 L465.5 344.0 L466.8 343.7 L468.2 344.3 L469.5 344.0 L470.8 344.7 L472.1 344.4 L473.4 343.9 L474.8 344.5 L476.1 344.7 L477.4 344.0 L478.7 344.1 L480.1 343.3 L481.4 344.8 L482.7 344.1 L484.0 343.4 L485.3 343.6 L486.7 344.3 L488.0 344.7 L489.3 344.4 L490.6 344.6 L491.9 343.9 L493.3 343.8 L494.6 344.8 L495.9 344.6 L497.2 344.4 L498.6 345.0 L499.9 344.0 L501.2 344.2 L502.5 344.9 L503.8 345.2 L505.2 344.4 L506.5 345.2 L507.8 344.1" stroke="#30b0fa" stroke-width="1.3"/>
<path d="M112.7 252.4 L113.9 273.9 L115.3 288.1 L116.6 295.4 L117.9 300.2 L119.2 304.1 L120.6 307.2 L121.9 310.1 L123.2 312.3 L124.5 314.4 L125.8 315.4 L127.2 317.9 L128.5 318.2 L129.8 319.6 L131.1 320.8 L132.4 321.5 L133.8 322.7 L135.1 322.8 L136.4 320.6 L137.7 322.5 L139.1 324.2 L140.4 324.0 L141.7 324.7 L143.0 325.7 L144.3 325.7 L145.7 326.9 L147.0 327.9 L148.3 328.6 L149.6 328.7 L151.0 328.8 L152.3 329.9 L153.6 329.6 L154.9 330.0 L156.2 330.4 L157.6 330.6 L158.9 330.8 L160.2 331.5 L161.5 331.2 L162.8 331.7 L164.2 332.1 L165.5 332.2 L166.8 332.8 L168.1 333.1 L169.5 333.3 L170.8 333.5 L172.1 334.0 L173.4 334.7 L174.7 334.7 L176.1 333.6 L177.4 335.3 L178.7 334.6 L180.0 334.9 L181.4 335.8 L182.7 335.6 L184.0 336.8 L185.3 336.7 L186.6 336.5 L188.0 336.4 L189.3 337.3 L190.6 337.8 L191.9 337.6 L193.2 338.4 L194.6 338.1 L195.9 338.4 L197.2 338.2 L198.5 338.5 L199.9 338.4 L201.2 338.0 L202.5 339.5 L203.8 338.7 L205.1 338.9 L206.5 339.3 L207.8 339.0 L209.1 339.1 L210.4 339.3 L211.7 338.9 L213.1 339.8 L214.4 339.6 L215.7 339.4 L217.0 340.0 L218.4 340.0 L219.7 339.8 L221.0 340.2 L222.3 340.3 L223.6 340.5 L225.0 340.7 L226.3 340.8 L227.6 340.3 L228.9 340.8 L230.3 340.5 L231.6 341.0 L232.9 340.6 L234.2 340.4 L235.5 341.0 L236.9 341.9 L238.2 341.6 L239.5 341.4 L240.8 342.2 L242.1 341.5 L243.5 341.7 L244.8 342.1 L246.1 342.1 L247.4 342.1 L248.8 342.1 L250.1 342.3 L251.4 342.7 L252.7 342.1 L254.0 342.3 L255.4 343.0 L256.7 343.4 L258.0 342.2 L259.3 342.9 L260.7 343.3 L262.0 342.9 L263.3 342.9 L264.6 343.4 L265.9 343.0 L267.3 343.0 L268.6 343.1 L269.9 342.9 L271.2 342.7 L272.5 343.8 L273.9 344.0 L275.2 343.6 L276.5 343.6 L277.8 343.8 L279.2 343.7 L280.5 343.3 L281.8 343.6 L283.1 344.1 L284.4 344.0 L285.8 343.8 L287.1 343.9 L288.4 344.7 L289.7 344.1 L291.1 344.9 L292.4 344.9 L293.7 344.6 L295.0 344.8 L296.3 345.0 L297.7 345.2 L299.0 345.2 L300.3 345.6 L301.6 345.5 L302.9 345.2 L304.3 345.4 L305.6 345.3 L306.9 345.4 L308.2 345.6 L309.6 345.1 L310.9 345.8 L312.2 345.8 L313.5 345.8 L314.8 345.6 L316.2 345.8 L317.5 345.8 L318.8 346.1 L320.1 345.5 L321.5 346.1 L322.8 346.3 L324.1 346.0 L325.4 346.1 L326.7 346.5 L328.1 347.0 L329.4 346.5 L330.7 346.6 L332.0 346.5 L333.3 346.7 L334.7 346.7 L336.0 346.3 L337.3 346.7 L338.6 346.9 L340.0 346.5 L341.3 346.8 L342.6 347.0 L343.9 347.0 L345.2 346.8 L346.6 347.4 L347.9 347.2 L349.2 346.9 L350.5 346.5 L351.8 347.0 L353.2 347.1 L354.5 347.1 L355.8 347.2 L357.1 347.6 L358.5 347.5 L359.8 347.6 L361.1 347.1 L362.4 347.4 L363.7 347.8 L365.1 347.3 L366.4 348.0 L367.7 347.3 L369.0 347.4 L370.4 348.0 L371.7 347.2 L373.0 347.8 L374.3 347.4 L375.6 347.4 L377.0 347.7 L378.3 347.7 L379.6 347.9 L380.9 347.7 L382.2 347.7 L383.6 347.5 L384.9 347.9 L386.2 347.3 L387.5 348.0 L388.9 347.9 L390.2 348.2 L391.5 348.2 L392.8 347.7 L394.1 348.1 L395.5 347.9 L396.8 348.0 L398.1 348.4 L399.4 348.4 L400.8 348.4 L402.1 348.4 L403.4 348.5 L404.7 348.4 L406.0 348.5 L407.4 348.9 L408.7 348.6 L410.0 348.8 L411.3 349.1 L412.6 349.0 L414.0 349.0 L415.3 349.2 L416.6 349.5 L417.9 349.1 L419.3 349.1 L420.6 349.5 L421.9 349.4 L423.2 349.5 L424.5 349.6 L425.9 349.6 L427.2 349.8 L428.5 349.9 L429.8 349.8 L431.2 350.2 L432.5 350.3 L433.8 350.1 L435.1 350.2 L436.4 350.5 L437.8 350.1 L439.1 350.2 L440.4 350.3 L441.7 350.4 L443.0 350.6 L444.4 350.6 L445.7 350.2 L447.0 350.8 L448.3 350.9 L449.7 350.5 L451.0 350.8 L452.3 350.7 L453.6 350.7 L454.9 350.7 L456.3 351.1 L457.6 350.7 L458.9 350.9 L460.2 351.1 L461.6 350.8 L462.9 351.0 L464.2 351.1 L465.5 351.4 L466.8 350.9 L468.2 351.2 L469.5 351.3 L470.8 351.2 L472.1 351.5 L473.4 351.3 L474.8 351.3 L476.1 351.5 L477.4 351.6 L478.7 351.3 L480.1 351.6 L481.4 351.6 L482.7 351.5 L484.0 351.4 L485.3 351.6 L486.7 351.6 L488.0 351.3 L489.3 351.4 L490.6 351.8 L491.9 351.3 L493.3 351.1 L494.6 351.3 L495.9 351.4 L497.2 351.5 L498.6 351.2 L499.9 351.6 L501.2 351.2 L502.5 351.2 L503.8 351.3 L505.2 351.1 L506.5 350.6 L507.8 351.1" stroke="#3434f5" stroke-width="1.25"/>
<path d="M112.7 275.0 L113.9 290.9 L115.3 299.0 L116.6 303.9 L117.9 307.6 L119.2 310.7 L120.6 313.4 L121.9 315.6 L123.2 317.4 L124.5 318.9 L125.8 320.3 L127.2 321.4 L128.5 322.6 L129.8 323.7 L131.1 324.8 L132.4 325.7 L133.8 326.6 L135.1 327.3 L136.4 326.4 L137.7 327.9 L139.1 328.9 L140.4 329.4 L141.7 329.9 L143.0 330.5 L144.3 331.0 L145.7 331.6 L147.0 332.1 L148.3 332.7 L149.6 333.2 L151.0 333.7 L152.3 334.2 L153.6 334.6 L154.9 335.1 L156.2 335.5 L157.6 335.9 L158.9 336.4 L160.2 336.8 L161.5 337.2 L162.8 337.6 L164.2 338.0 L165.5 338.4 L166.8 338.9 L168.1 339.4 L169.5 340.0 L170.8 340.6 L172.1 341.1 L173.4 341.6 L174.7 342.0 L176.1 342.5 L177.4 342.9 L178.7 343.3 L180.0 343.7 L181.4 344.0 L182.7 344.4 L184.0 344.8 L185.3 345.1 L186.6 345.4 L188.0 345.7 L189.3 346.0 L190.6 346.3 L191.9 346.6 L193.2 346.9 L194.6 347.1 L195.9 347.4 L197.2 347.6 L198.5 347.8 L199.9 348.0 L201.2 348.2 L202.5 348.3 L203.8 348.5 L205.1 348.7 L206.5 348.8 L207.8 349.0 L209.1 349.1 L210.4 349.2 L211.7 349.3 L213.1 349.4 L214.4 349.5 L215.7 349.6 L217.0 349.7 L218.4 349.8 L219.7 349.9 L221.0 350.0 L222.3 350.0 L223.6 350.1 L225.0 350.2 L226.3 350.3 L227.6 350.3 L228.9 350.4 L230.3 350.4 L231.6 350.5 L232.9 350.5 L234.2 350.5 L235.5 350.6 L236.9 350.6 L238.2 350.6 L239.5 350.7 L240.8 350.7 L242.1 350.7 L243.5 350.8 L244.8 350.8 L246.1 350.8 L247.4 350.9 L248.8 350.9 L250.1 350.9 L251.4 350.9 L252.7 351.0 L254.0 351.0 L255.4 351.0 L256.7 351.0 L258.0 351.1 L259.3 351.1 L260.7 351.1 L262.0 351.1 L263.3 351.2 L264.6 351.2 L265.9 351.2 L267.3 351.2 L268.6 351.3 L269.9 351.3 L271.2 351.3 L272.5 351.4 L273.9 351.4 L275.2 351.4 L276.5 351.4 L277.8 351.5 L279.2 351.5 L280.5 351.5 L281.8 351.6 L283.1 351.6 L284.4 351.6 L285.8 351.7 L287.1 351.7 L288.4 351.7 L289.7 351.7 L291.1 351.8 L292.4 351.8 L293.7 351.8 L295.0 351.9 L296.3 351.9 L297.7 351.9 L299.0 351.9 L300.3 352.0 L301.6 352.0 L302.9 352.0 L304.3 352.1 L305.6 352.1 L306.9 352.1 L308.2 352.1 L309.6 352.1 L310.9 352.2 L312.2 352.2 L313.5 352.2 L314.8 352.2 L316.2 352.3 L317.5 352.3 L318.8 352.3 L320.1 352.3 L321.5 352.3 L322.8 352.3 L324.1 352.4 L325.4 352.4 L326.7 352.4 L328.1 352.4 L329.4 352.4 L330.7 352.4 L332.0 352.4 L333.3 352.5 L334.7 352.5 L336.0 352.5 L337.3 352.5 L338.6 352.5 L340.0 352.5 L341.3 352.5 L342.6 352.5 L343.9 352.6 L345.2 352.6 L346.6 352.6 L347.9 352.6 L349.2 352.6 L350.5 352.6 L351.8 352.6 L353.2 352.6 L354.5 352.7 L355.8 352.7 L357.1 352.7 L358.5 352.7 L359.8 352.7 L361.1 352.7 L362.4 352.7 L363.7 352.7 L365.1 352.7 L366.4 352.7 L367.7 352.8 L369.0 352.8 L370.4 352.8 L371.7 352.8 L373.0 352.8 L374.3 352.8 L375.6 352.8 L377.0 352.8 L378.3 352.8 L379.6 352.8 L380.9 352.9 L382.2 352.9 L383.6 352.9 L384.9 352.9 L386.2 352.9 L387.5 352.9 L388.9 352.9 L390.2 352.9 L391.5 352.9 L392.8 352.9 L394.1 353.0 L395.5 353.0 L396.8 353.0 L398.1 353.0 L399.4 353.0 L400.8 353.0 L402.1 353.0 L403.4 353.0 L404.7 353.0 L406.0 353.0 L407.4 353.1 L408.7 353.1 L410.0 353.1 L411.3 353.1 L412.6 353.1 L414.0 353.1 L415.3 353.1 L416.6 353.1 L417.9 353.1 L419.3 353.2 L420.6 353.2 L421.9 353.2 L423.2 353.2 L424.5 353.2 L425.9 353.2 L427.2 353.2 L428.5 353.2 L429.8 353.2 L431.2 353.2 L432.5 353.3 L433.8 353.3 L435.1 353.3 L436.4 353.3 L437.8 353.3 L439.1 353.3 L440.4 353.3 L441.7 353.3 L443.0 353.3 L444.4 353.3 L445.7 353.4 L447.0 353.4 L448.3 353.4 L449.7 353.4 L451.0 353.4 L452.3 353.4 L453.6 353.4 L454.9 353.4 L456.3 353.4 L457.6 353.4 L458.9 353.5 L460.2 353.5 L461.6 353.5 L462.9 353.5 L464.2 353.5 L465.5 353.5 L466.8 353.5 L468.2 353.5 L469.5 353.5 L470.8 353.5 L472.1 353.6 L473.4 353.6 L474.8 353.6 L476.1 353.6 L477.4 353.6 L478.7 353.6 L480.1 353.6 L481.4 353.6 L482.7 353.6 L484.0 353.6 L485.3 353.6 L486.7 353.7 L488.0 353.7 L489.3 353.7 L490.6 353.7 L491.9 353.7 L493.3 353.7 L494.6 353.7 L495.9 353.7 L497.2 353.7 L498.6 353.7 L499.9 353.7 L501.2 353.8 L502.5 353.8 L503.8 353.8 L505.2 353.8 L506.5 353.8 L507.8 353.8" stroke="#ff3cff" stroke-width="1.5"/>
</g>
<g stroke="#000" stroke-width="1.6" fill="none">
<rect x="78.3" y="15.6" width="462.8" height="351.2"/>
<path d="M71.2 366.80H78.3M71.2 296.56H78.3M71.2 226.32H78.3M71.2 156.08H78.3M71.2 85.84H78.3M71.2 15.60H78.3M74.8 331.68H78.3M74.8 261.44H78.3M74.8 191.20H78.3M74.8 120.96H78.3M74.8 50.72H78.3M111.30 366.8V373.6M177.38 366.8V373.6M243.47 366.8V373.6M309.56 366.8V373.6M375.64 366.8V373.6M441.73 366.8V373.6M507.81 366.8V373.6M78.26 366.8V369.8M144.34 366.8V369.8M210.43 366.8V369.8M276.51 366.8V369.8M342.60 366.8V369.8M408.68 366.8V369.8M474.77 366.8V369.8M540.85 366.8V369.8"/>
</g>
<g fill="#000">
<text x="34.20 42.20 50.20 58.20" y="372.10" font-size="15" text-anchor="start" >0.00</text>
<text x="34.20 42.20 50.20 58.20" y="301.86" font-size="15" text-anchor="start" >0.05</text>
<text x="34.20 42.20 50.20 58.20" y="231.62" font-size="15" text-anchor="start" >0.10</text>
<text x="34.20 42.20 50.20 58.20" y="161.38" font-size="15" text-anchor="start" >0.15</text>
<text x="34.20 42.20 50.20 58.20" y="91.14" font-size="15" text-anchor="start" >0.20</text>
<text x="34.20 42.20 50.20 58.20" y="20.90" font-size="15" text-anchor="start" >0.25</text>
<text x="107.60" y="391.10" font-size="15" text-anchor="start" >0</text>
<text x="169.69 177.69" y="391.10" font-size="15" text-anchor="start" >50</text>
<text x="231.77 239.77 247.77" y="391.10" font-size="15" text-anchor="start" >100</text>
<text x="297.86 305.86 313.86" y="391.10" font-size="15" text-anchor="start" >150</text>
<text x="363.94 371.94 379.94" y="391.10" font-size="15" text-anchor="start" >200</text>
<text x="430.03 438.03 446.03" y="391.10" font-size="15" text-anchor="start" >250</text>
<text x="496.11 504.11 512.11" y="391.10" font-size="15" text-anchor="start" >300</text>
<text x="290.50 300.20 309.90 319.60 329.30" y="415.20" font-size="18.5" text-anchor="middle" >Epoch</text>
<g transform="translate(26.9 191.5) rotate(-90)"><text x="-41.71 -32.44 -23.17 -13.90 -4.63 4.64 13.91 23.17 32.45 41.72" y="0.00" font-size="18.5" text-anchor="middle" >Total_loss</text></g>
</g>
<rect x="401.3" y="24.4" width="117.6" height="132.1" fill="#fff" stroke="#111" stroke-width="1.1"/>
<path d="M403.2 32.90H431.6" stroke="#fa1a1a" stroke-width="1.25"/>
<text transform="translate(438.2 37.40) scale(0.9192 1)" font-family="'Liberation Mono',monospace" font-size="13" fill="#000" stroke="#000" stroke-width="0.3">SSD</text>
<path d="M403.2 47.39H431.6" stroke="#3f6ea8" stroke-width="1.25"/>
<text transform="translate(438.2 51.89) scale(0.9192 1)" font-family="'Liberation Mono',monospace" font-size="13" fill="#000" stroke="#000" stroke-width="0.3">yolov3</text>
<path d="M403.2 61.88H431.6" stroke="#3ec070" stroke-width="1.25"/>
<text transform="translate(438.2 66.38) scale(0.9192 1)" font-family="'Liberation Mono',monospace" font-size="13" fill="#000" stroke="#000" stroke-width="0.3">Faster-RCNN</text>
<path d="M403.2 76.37H431.6" stroke="#ff8828" stroke-width="1.25"/>
<text transform="translate(438.2 80.87) scale(0.9192 1)" font-family="'Liberation Mono',monospace" font-size="13" fill="#000" stroke="#000" stroke-width="0.3">YOLOv5</text>
<path d="M403.2 90.86H431.6" stroke="#ffc42e" stroke-width="1.25"/>
<text transform="translate(438.2 95.36) scale(0.9192 1)" font-family="'Liberation Mono',monospace" font-size="13" fill="#000" stroke="#000" stroke-width="0.3">YOLOv6</text>
<path d="M403.2 105.35H431.6" stroke="#ff7070" stroke-width="1.25"/>
<text transform="translate(438.2 109.85) scale(0.9192 1)" font-family="'Liberation Mono',monospace" font-size="13" fill="#000" stroke="#000" stroke-width="0.3">Peng et al.</text>
<path d="M403.2 119.84H431.6" stroke="#30b0fa" stroke-width="1.4000000000000001"/>
<text transform="translate(438.2 124.34) scale(0.9192 1)" font-family="'Liberation Mono',monospace" font-size="13" fill="#000" stroke="#000" stroke-width="0.3">YOLOv7</text>
<path d="M403.2 134.33H431.6" stroke="#3434f5" stroke-width="1.35"/>
<text transform="translate(438.2 138.83) scale(0.9192 1)" font-family="'Liberation Mono',monospace" font-size="13" fill="#000" stroke="#000" stroke-width="0.3">Cao et al.</text>
<path d="M403.2 148.82H431.6" stroke="#ff3cff" stroke-width="1.6"/>
<text transform="translate(438.2 153.32) scale(0.9192 1)" font-family="'Liberation Mono',monospace" font-size="13" fill="#000" stroke="#000" stroke-width="0.3">SANO-YOLOv7</text>
</svg>
</body></html>
